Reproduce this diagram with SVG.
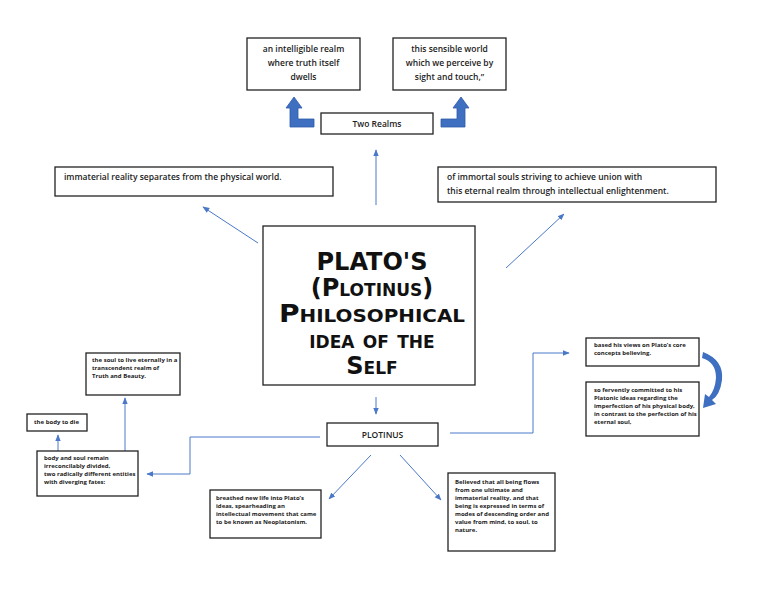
<svg xmlns="http://www.w3.org/2000/svg" width="768" height="594" viewBox="0 0 768 594">
<defs>
<style>
.b{fill:#fff;stroke:#222;stroke-width:1.3}
.t{font-family:"Open Sans","Liberation Sans",sans-serif;font-size:8.5px;fill:#222;font-weight:600}
.s{font-family:"Open Sans","Liberation Sans",sans-serif;font-size:6px;font-weight:bold;fill:#222}
.c{stroke:#4a78c8;stroke-width:1;fill:none}
.title{font-family:"DejaVu Sans","Liberation Sans",sans-serif;font-size:24px;font-weight:bold;font-variant:small-caps;fill:#111;text-anchor:middle}
</style>
<marker id="a" viewBox="0 0 10 10" refX="9" refY="5" markerWidth="7" markerHeight="7" orient="auto"><path d="M0,1L10,5L0,9z" fill="#4a78c8"/></marker>
</defs>
<rect width="768" height="594" fill="#fff"/>
<g id="connectors">
<path class="c" d="M376,205V150" marker-end="url(#a)"/>
<path class="c" d="M258,243L203,207" marker-end="url(#a)"/>
<path class="c" d="M506,268L564,214" marker-end="url(#a)"/>
<path class="c" d="M376,397V414" marker-end="url(#a)"/>
<path class="c" d="M320,437H190V474H147" marker-end="url(#a)"/>
<path class="c" d="M58,451V435" marker-end="url(#a)"/>
<path class="c" d="M125,451V398" marker-end="url(#a)"/>
<path class="c" d="M450,433H533V353H569" marker-end="url(#a)"/>
<path class="c" d="M371,455L329,499" marker-end="url(#a)"/>
<path class="c" d="M400,455L441,500" marker-end="url(#a)"/>
<path d="M290,127V108H286L294,97L302,108H298V119H314V127Z" fill="#3f6fc0" stroke="#2e5aa8" stroke-width="0.8"/>
<path d="M465,127V108H469L461,97L453,108H457V119H441V127Z" fill="#3f6fc0" stroke="#2e5aa8" stroke-width="0.8"/>
<path d="M703,352Q724,360 722,380Q720,395 712,400L716,404L703,408L705,394L709,397Q715,390 716,378Q716,362 702,358Z" fill="#3f6fc0"/>
</g>
<g id="n-intelligible"><rect class="b" x="247" y="38" width="113" height="52"/>
<text class="t" text-anchor="middle"><tspan x="303.5" y="52">an intelligible realm</tspan><tspan x="303.5" y="66">where truth itself</tspan><tspan x="303.5" y="80">dwells</tspan></text></g>
<g id="n-sensible"><rect class="b" x="393" y="38" width="113" height="52"/>
<text class="t" text-anchor="middle"><tspan x="449.5" y="52">this sensible world</tspan><tspan x="449.5" y="66">which we perceive by</tspan><tspan x="449.5" y="80">sight and touch,”</tspan></text></g>
<g id="n-tworealms"><rect class="b" x="321" y="113" width="112" height="21"/>
<text class="t" x="377" y="127" text-anchor="middle">Two Realms</text></g>
<g id="n-immaterial"><rect class="b" x="55" y="167" width="278" height="29"/>
<text class="t" x="64" y="180">immaterial reality separates from the physical world.</text></g>
<g id="n-immortal"><rect class="b" x="438" y="167" width="278" height="35"/>
<text class="t"><tspan x="447" y="180">of immortal souls striving to achieve union with</tspan><tspan x="447" y="194">this eternal realm through intellectual enlightenment.</tspan></text></g>
<g id="n-main"><rect class="b" x="263" y="226" width="212" height="159"/>
<text class="title"><tspan x="372" y="270">PLATO'S</tspan><tspan x="372" y="296">(Plotinus)</tspan><tspan x="372" y="322" textLength="186" lengthAdjust="spacingAndGlyphs">Philosophical</tspan><tspan x="372" y="348">idea of the</tspan><tspan x="372" y="374">Self</tspan></text></g>
<g id="n-plotinus"><rect class="b" x="327" y="423" width="111" height="23"/>
<text class="t" x="382.5" y="438" text-anchor="middle" font-weight="bold" font-size="8">PLOTINUS</text></g>
<g id="n-soul"><rect class="b" x="86" y="353" width="94" height="42"/>
<text class="s"><tspan x="92" y="362">the soul to live eternally in a</tspan><tspan x="92" y="370">transcendent realm of</tspan><tspan x="92" y="378">Truth and Beauty.</tspan></text></g>
<g id="n-body"><rect class="b" x="27" y="414" width="60" height="17"/>
<text class="s" x="34" y="424">the body to die</text></g>
<g id="n-bodysoul"><rect class="b" x="37" y="451" width="101" height="45"/>
<text class="s"><tspan x="44" y="460">body and soul remain</tspan><tspan x="44" y="468">irreconcilably divided,</tspan><tspan x="44" y="476">two radically different entities</tspan><tspan x="44" y="484">with diverging fates:</tspan></text></g>
<g id="n-based"><rect class="b" x="586" y="338" width="113" height="28"/>
<text class="s"><tspan x="594" y="347">based his views on Plato’s core</tspan><tspan x="594" y="355">concepts believing.</tspan></text></g>
<g id="n-fervently"><rect class="b" x="586" y="382" width="113" height="54"/>
<text class="s"><tspan x="594" y="392">so fervently committed to his</tspan><tspan x="594" y="400">Platonic ideas regarding the</tspan><tspan x="594" y="408">imperfection of his physical body,</tspan><tspan x="594" y="416">in contrast to the perfection of his</tspan><tspan x="594" y="424">eternal soul,</tspan></text></g>
<g id="n-breathed"><rect class="b" x="210" y="490" width="111" height="48"/>
<text class="s"><tspan x="216" y="500">breathed new life into Plato’s</tspan><tspan x="216" y="508">ideas, spearheading an</tspan><tspan x="216" y="516">intellectual movement that came</tspan><tspan x="216" y="524">to be known as Neoplatonism.</tspan></text></g>
<g id="n-believed"><rect class="b" x="448" y="473" width="107" height="78"/>
<text class="s"><tspan x="455" y="484">Believed that all being flows</tspan><tspan x="455" y="492">from one ultimate and</tspan><tspan x="455" y="500">immaterial reality, and that</tspan><tspan x="455" y="508">being is expressed in terms of</tspan><tspan x="455" y="516">modes of descending order and</tspan><tspan x="455" y="524">value from mind, to soul, to</tspan><tspan x="455" y="532">nature.</tspan></text></g>
</svg>
